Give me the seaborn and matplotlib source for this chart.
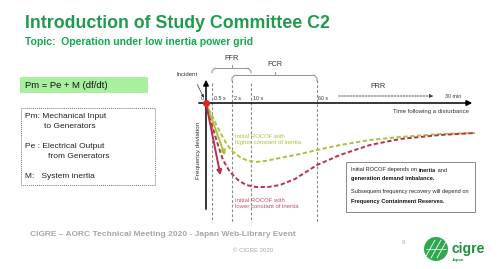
import matplotlib
matplotlib.use("Agg")
import matplotlib.pyplot as plt
import seaborn as sns
import pandas as pd
from matplotlib.patches import Rectangle, Circle

# ---------------- data ----------------
# time axis positions (chart units, origin = incident) and tick labels
tick_labels = ["0.5 s", "2 s", "10 s", "60 s"]
tick_pos = [6, 26, 45, 111]
end_label = "30 min"

# frequency-deviation curves
t_high = [0, 7, 14, 20, 26, 34, 42, 50, 59, 74, 94, 111, 134, 164, 194, 234, 269]
f_high = [0, -15, -29, -40, -48, -54, -58, -59, -58, -55, -51, -47, -42, -37, -34, -31, -30]
t_low = [0, 4, 8, 12, 17, 24, 32, 40, 50, 62, 74, 89, 111, 134, 164, 194, 234, 269]
f_low = [0, -15, -29, -42, -57, -69, -77, -82, -84, -84, -82, -76, -62, -52, -42, -36, -32, -30]

# initial ROCOF arrows (end points)
rocof_high = (20, -55)
rocof_low = (15, -75)

series_names = ["higher inertia", "lower inertia"]
green = "#a9c23f"
red = "#b8304a"

# ---------------- figure ----------------
sns.set_theme(style="white")
plt.rcParams["font.family"] = ["Liberation Sans", "DejaVu Sans"]

fig = plt.figure(figsize=(5.0, 2.69), dpi=100)
fig.patch.set_facecolor("white")

bg = fig.add_axes([0, 0, 1, 1])
bg.set_xlim(0, 500)
bg.set_ylim(269, 0)
bg.axis("off")

ax = fig.add_axes([0, 0, 1, 1])
ax.set_xlim(-206, 294)
ax.set_ylim(-166, 103)
ax.axis("off")
ax.patch.set_alpha(0)

# ---- slide texts ----
title_green = "#1f9a4e"
bg.text(25, 23, "Introduction of Study Committee C2", color=title_green,
        fontsize=12.8, fontweight="bold", va="center", ha="left")
bg.text(25, 42, "Topic:  Operation under low inertia power grid", color="#12a84c",
        fontsize=7.45, fontweight="bold", va="center", ha="left")

bg.add_patch(Rectangle((20, 77), 128, 16, facecolor="#a8f0a0", edgecolor="none"))
bg.text(25, 85.5, "Pm = Pe + M (df/dt)", fontsize=6.8, va="center", ha="left", color="#111111")

bg.add_patch(Rectangle((21, 108), 134, 77, facecolor="none", edgecolor="#777777",
                       linestyle=(0, (1, 1)), linewidth=0.7))
box_lines = [("Pm: Mechanical Input", 25, 117), ("to Generators", 44, 126.5),
             ("Pe : Electrical Output", 25, 146), ("from Generators", 48, 156),
             ("M:   System inertia", 25, 176.5)]
for s, x, y in box_lines:
    bg.text(x, y, s, fontsize=6.0, va="center", ha="left", color="#222222")

# footer
bg.text(30, 235, "CIGRE \u2013 AORC Technical Meeting 2020 - Japan Web-Library Event",
        fontsize=6.05, fontweight="bold", color="#a6a6a6", va="center", ha="left")
bg.text(253, 251, "\u00a9 CIGRE 2020", fontsize=4.3, color="#a6a6a6", va="center", ha="center")
bg.text(403, 243, "6", fontsize=4.5, color="#a6a6a6", va="center", ha="center")

# logo
bg.add_patch(Circle((436, 249), 12, facecolor="#2fa84f", edgecolor="none"))
for dx in (-6, 0, 6):
    bg.plot([436 + dx - 5, 436 + dx + 5], [258, 240], color="white", lw=0.6)
bg.plot([426, 446], [249, 249], color="white", lw=0.5)
bg.text(452, 249, "cigre", fontsize=10, fontweight="bold", color="#1f8f3e",
        va="center", ha="left")
bg.text(452, 260, "Japan", fontsize=3.2, fontweight="bold", color="#1f8f3e",
        va="center", ha="left")

# right explanation box
bg.add_patch(Rectangle((346, 162), 129, 50, facecolor="white", edgecolor="#888888", linewidth=0.7))
fs = 4.1
t1 = bg.text(351, 170, "Initial ROCOF depends on ", fontsize=fs, va="center", ha="left", color="#222")
t2 = bg.annotate("inertia", xy=(1, 0.5), xycoords=t1, fontsize=fs, fontweight="bold",
                 va="center", ha="left", color="#111")
bg.annotate(" and", xy=(1, 0.5), xycoords=t2, fontsize=fs, va="center", ha="left", color="#222")
bg.text(351, 178.5, "generation demand imbalance.", fontsize=fs, fontweight="bold",
        va="center", ha="left", color="#111")
bg.text(351, 192, "Subsequent frequency recovery will depend on", fontsize=fs,
        va="center", ha="left", color="#222")
bg.text(351, 201, "Frequency Containment Reserves.", fontsize=fs, fontweight="bold",
        va="center", ha="left", color="#111")

# ---- chart ----
df = pd.concat([
    pd.DataFrame({"t": t_high, "dev": f_high, "case": series_names[0]}),
    pd.DataFrame({"t": t_low, "dev": f_low, "case": series_names[1]}),
])
sns.lineplot(data=df, x="t", y="dev", hue="case", palette=[green, red],
             ax=ax, legend=False, sort=False, linewidth=1.4, zorder=4)
for ln in ax.get_lines():
    ln.set_dashes((2.2, 1.3))
ax.axis("off")

# axes
ax.annotate("", xy=(269, 0), xytext=(-10, 0),
            arrowprops=dict(arrowstyle="-|>", color="black", lw=1.1, mutation_scale=8))
ax.annotate("", xy=(0, 26), xytext=(0, -109),
            arrowprops=dict(arrowstyle="-|>", color="black", lw=1.1, mutation_scale=8))

# dashed markers
tops = [20, 23, 20, 23]
for x, top in zip(tick_pos, tops):
    ax.plot([x, x], [top, -119], color="#8a8a8a", lw=0.8, ls=(0, (2.5, 1.8)), zorder=1)
for lab, x in zip(tick_labels, tick_pos):
    ax.text(x + 1.5, 4, lab, fontsize=3.8, va="center", ha="left", color="#333")
ax.text(-5, 4, "0", fontsize=3.8, va="center", ha="left", color="#333")
ax.text(239, 7, end_label, fontsize=3.8, va="center", ha="left", color="#333")

# brackets
def bracket(x0, x1, y, drop, tick, color="#9a9a9a"):
    xm = (x0 + x1) / 2
    r = 3
    ax.plot([x0, x0, x0 + r], [y - drop, y - r, y], color=color, lw=0.8)
    ax.plot([x0 + r, x1 - r], [y, y], color=color, lw=0.8)
    ax.plot([x1 - r, x1, x1], [y, y - r, y - drop], color=color, lw=0.8)
    ax.plot([xm, xm], [y, y + tick], color=color, lw=0.8)
    return xm

m1 = bracket(tick_pos[0], tick_pos[2], 35, 5, 3)
ax.text(m1, 45, "FFR", fontsize=5.3, ha="center", va="center", color="#333")
m2 = bracket(tick_pos[1], tick_pos[3], 28, 6, 3)
ax.text(m2, 38, "FCR", fontsize=5.3, ha="center", va="center", color="#333")

ax.annotate("", xy=(230, 7), xytext=(130, 7),
            arrowprops=dict(arrowstyle="-|>", color="#333", lw=0.6, ls=(0, (2, 1.5)),
                            mutation_scale=5))
ax.text(172, 16, "FRR", fontsize=5.3, ha="center", va="center", color="#333")
ax.text(187, -9, "Time following a disturbance", fontsize=4.3, ha="left", va="center", color="#333")

# incident
ax.text(-19, 28, "Incident", fontsize=4.3, ha="center", va="center", color="#333")
ax.annotate("", xy=(-1, 3), xytext=(-10, 21),
            arrowprops=dict(arrowstyle="-|>", color="#333", lw=0.5, mutation_scale=4))
ax.text(-8, -47, "Frequency deviation", fontsize=4.6, rotation=90, ha="center", va="center",
        color="#333")

# initial ROCOF arrows
ax.annotate("", xy=rocof_high, xytext=(0, 0),
            arrowprops=dict(arrowstyle="-|>", color=green, lw=1.4, mutation_scale=7), zorder=5)
ax.annotate("", xy=rocof_low, xytext=(0, 0),
            arrowprops=dict(arrowstyle="-|>", color=red, lw=1.4, mutation_scale=7), zorder=5)
ax.plot([0], [0], marker="o", color="#e8201a", markersize=4, zorder=6)

ax.text(29, -36.5, "Initial ROCOF with\nhigher constant of inertia", fontsize=4.3,
        color=green, ha="left", va="center", linespacing=1.25)
ax.text(29, -100, "Initial ROCOF with\nlower constant of inertia", fontsize=4.3,
        color="#c0506a", ha="left", va="center", linespacing=1.25)

fig.savefig("out.png", dpi=100)
